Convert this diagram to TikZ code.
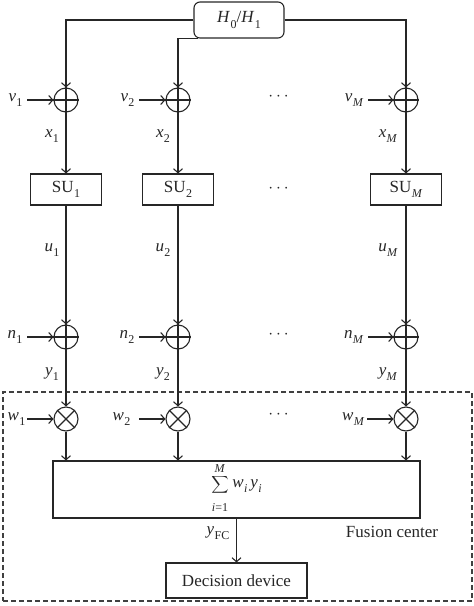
\documentclass[tikz,border=0pt]{standalone}
\usepackage{amsmath}
\usepackage{exscale}
\usepackage{fontspec}
\setmainfont{Liberation Serif}
\usetikzlibrary{arrows.meta}
\newcommand\subx[1]{\kern0.4pt\raisebox{-0.3em}{\fontsize{12}{13}\selectfont #1}}
\newcommand\varx[2]{\textit{#1}\subx{#2}}
\begin{document}
\begin{tikzpicture}[x=1pt,y=-1pt, line width=1.1pt, color=black!85,
  every node/.style={font=\fontsize{17}{20}\selectfont},
  arr/.style={-{Straight Barb[length=4pt,width=9pt]}},
  addc/.style={circle,draw,minimum size=24pt,inner sep=0pt},
  blk/.style={draw,rectangle,inner sep=0pt},
  lab/.style={inner sep=0pt},
  small/.style={inner sep=0pt,font=\fontsize{12}{13}\selectfont},
  inlab/.style={inner xsep=4pt,inner ysep=0pt,anchor=east},
  dashbox/.style={draw,rectangle,line width=1.6pt,dash pattern=on 5pt off 3pt,black!75,inner sep=0pt}]
\useasboundingbox (0,0) rectangle (474,606);

% hypothesis box
\node[blk,rounded corners=6pt,minimum width=90pt,minimum height=36pt] (H) at (239,20) {\varx{H}{0}/\varx{H}{1}};

% fusion center dashed frame
\node[dashbox,minimum width=469pt,minimum height=209pt] (FC) at (237.5,496.5) {};

% columns
\foreach \n/\x/\xl/\s in {1/66/52/1,2/178/163/2,M/406/388/\textit{M}}{
  \node[addc] (p\n) at (\x,100) {};
  \draw (p\n.north) -- (p\n.south) (p\n.west) -- (p\n.east);
  \node[blk,minimum width=71pt,minimum height=31pt] (s\n) at (\x,189.5) {SU\subx{\s}};
  \node[addc] (q\n) at (\x,337) {};
  \draw (q\n.north) -- (q\n.south) (q\n.west) -- (q\n.east);
  \node[addc] (m\n) at (\x,419) {};
  \draw (m\n.45) -- (m\n.225) (m\n.135) -- (m\n.315);
  \node[lab] (x\n) at (\xl,136) {\varx{x}{\s}};
  \node[lab] (u\n) at (\xl,250) {\varx{u}{\s}};
  \node[lab] (y\n) at (\xl,374) {\varx{y}{\s}};
}

% input labels
\node[inlab] (v1) at (27,100) {\varx{v}{1}};
\node[inlab] (v2) at (139,100) {\varx{v}{2}};
\node[inlab] (vM) at (368,100) {\varx{v}{\textit{M}}};
\node[inlab] (n1) at (27,337) {\varx{n}{1}};
\node[inlab] (n2) at (139,337) {\varx{n}{2}};
\node[inlab] (nM) at (368,337) {\varx{n}{\textit{M}}};
\node[inlab,inner xsep=1pt] (w1) at (27,419) {\varx{w}{1}};
\node[inlab,inner xsep=8pt] (w2) at (139,419) {\varx{w}{2}};
\node[inlab,inner xsep=2pt] (wM) at (367,419) {\varx{w}{\textit{M}}};

% dots
\node (d1) at (280,97) {$\cdots$};
\node (d2) at (280,189) {$\cdots$};
\node (d3) at (280,335) {$\cdots$};
\node (d4) at (280,415) {$\cdots$};

% sum and decision
\node[blk,minimum width=367pt,minimum height=57pt] (S) at (236.5,489.5) {};
\node[lab,font=\fontsize{13}{14}\selectfont] (sig) at (220,485) {$\displaystyle\sum$};
\node[small] (supM) at (220,469) {\textit{M}};
\node[small] (subi) at (220,507.5) {\textit{i}=1};
\node[lab] (wy) at (247,486) {\varx{w}{\textit{i}}\,\varx{y}{\textit{i}}};
\node[blk,minimum width=141pt,minimum height=35pt] (D) at (236.5,580.5) {Decision device};
\node[lab] (fcl) at (392,532) {Fusion center};
\node[lab] (yfc) at (218,533) {\varx{y}{FC}};

% connectors
\draw[arr] (H.west) -| (p1.north);
\draw[arr] ([xshift=5pt]H.south west) -| (p2.north);
\draw[arr] (H.east) -| (pM.north);
\foreach \n in {1,2,M}{
  \draw[arr] (p\n) -- (s\n);
  \draw[arr] (s\n) -- (q\n);
  \draw[arr] (q\n) -- (m\n);
  \draw[arr] (m\n) -- (m\n |- S.north);
}
\draw[arr] (v1) -- (p1);
\draw[arr] (v2) -- (p2);
\draw[arr] (vM) -- (pM);
\draw[arr] (n1) -- (q1);
\draw[arr] (n2) -- (q2);
\draw[arr] (nM) -- (qM);
\draw[arr] (w1) -- (m1);
\draw[arr] (w2) -- (m2);
\draw[arr] (wM) -- (mM);
\draw[arr] (S) -- (D);
\end{tikzpicture}
\end{document}
